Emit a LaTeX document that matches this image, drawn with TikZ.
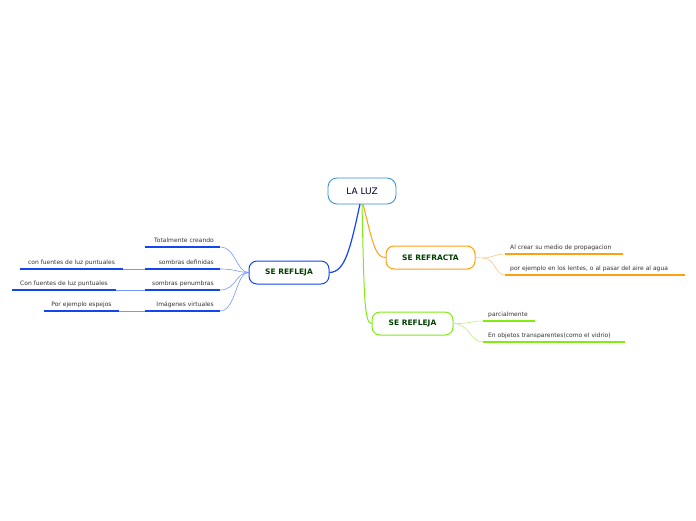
\documentclass[tikz,border=0pt]{standalone}
\usepackage{fontspec}
\setmainfont{DejaVu Sans}
\begin{document}
\begin{tikzpicture}[x=1pt,y=-1pt,
  main/.style={draw=#1,line width=1pt,rounded corners=8pt,fill=white,font=\fontsize{7.5}{9}\selectfont\bfseries,text=green!25!black,minimum height=23pt,inner sep=0pt},
  leaf/.style={font=\fontsize{6}{7}\selectfont,text=black!80,inner sep=0pt},
  ul/.style={draw=#1,line width=1.3pt},
  cn/.style={draw=#1,line width=0.6pt}]
\useasboundingbox (0,0) rectangle (696,520);
\definecolor{bl}{RGB}{20,70,240}
\definecolor{lbl}{RGB}{120,150,250}
\definecolor{orn}{RGB}{255,160,20}
\definecolor{lor}{RGB}{255,200,120}
\definecolor{grn}{RGB}{130,235,20}
\definecolor{lgr}{RGB}{180,245,120}
\definecolor{rootc}{RGB}{50,140,210}
\node[draw=rootc,line width=0.8pt,rounded corners=9pt,minimum width=68pt,minimum height=26pt,font=\fontsize{9}{11}\selectfont,text=black!85!blue] (root) at (362,191) {LA LUZ};
\node[main=bl,minimum width=80pt] (refl) at (289,272.5) {SE REFLEJA};
\node[main=orn,minimum width=89pt] (refr) at (430.5,257.5) {SE REFRACTA};
\node[main=grn,minimum width=81pt] (refl2) at (412.5,323.5) {SE REFLEJA};
\draw[bl,line width=1.2pt] (360,204) .. controls (350,250) and (345,272) .. (refl.east);
\draw[orn,line width=1pt] (363,204) .. controls (372,240) and (375,258) .. (refr.west);
\draw[grn,line width=1pt] (362,204) .. controls (364,290) and (364,324) .. (refl2.west);
% left leaves
\foreach \n/\y/\t in {a/247/Totalmente creando,b/269/sombras definidas,c/290/sombras penumbras,d/311/Imágenes virtuales}{
  \coordinate (\n L) at (145,\y); \coordinate (\n R) at (220,\y);
  \draw[ul=bl] (\n L) -- (\n R);
  \node[leaf,anchor=base east] (\n t) at (214,\y-5) {\t};
  \draw[cn=lbl] (refl.west) .. controls (236,272) and (236,\y) .. (\n R);
}
\foreach \n/\y/\a/\b/\t in {e/269/20/123/con fuentes de luz puntuales,f/290/12/116/Con fuentes de luz puntuales,g/311/44/119/Por ejemplo espejos}{
  \coordinate (\n L) at (\a,\y); \coordinate (\n R) at (\b,\y);
  \draw[ul=bl] (\n L) -- (\n R);
  \node[leaf,anchor=base] (\n t) at ({(\a+\b)/2},\y-5) {\t};
}
\draw[cn=lbl,line width=1pt] (eR) -- (bL);
\draw[cn=lbl,line width=1pt] (fR) -- (cL);
\draw[cn=lbl,line width=1pt] (gR) -- (dL);
% refracta leaves
\coordinate (hL) at (505,254); \coordinate (hR) at (623,254);
\coordinate (iL) at (505,275); \coordinate (iR) at (685,275);
\draw[ul=orn] (hL) -- (hR); \draw[ul=orn] (iL) -- (iR);
\node[leaf,anchor=base west] (ht) at (510,249) {Al crear su medio de propagacion};
\node[leaf,anchor=base west] (it) at (510,270) {por ejemplo en los lentes, o al pasar del aire al agua};
\draw[cn=lor] (refr.east) -- (483,258) .. controls (492,258) and (495,254) .. (hL);
\draw[cn=lor] (483,258) .. controls (495,258) and (495,275) .. (iL);
% green leaves
\coordinate (jL) at (483,321); \coordinate (jR) at (535,321);
\coordinate (kL) at (483,342); \coordinate (kR) at (625,342);
\draw[ul=grn] (jL) -- (jR); \draw[ul=grn] (kL) -- (kR);
\node[leaf,anchor=base west] (jt) at (488,316) {parcialmente};
\node[leaf,anchor=base west] (kt) at (488,337) {En objetos transparentes(como el vidrio)};
\draw[cn=lgr] (refl2.east) .. controls (470,324) and (470,321) .. (jL);
\draw[cn=lgr] (refl2.east) .. controls (470,324) and (470,342) .. (kL);
\end{tikzpicture}
\end{document}
